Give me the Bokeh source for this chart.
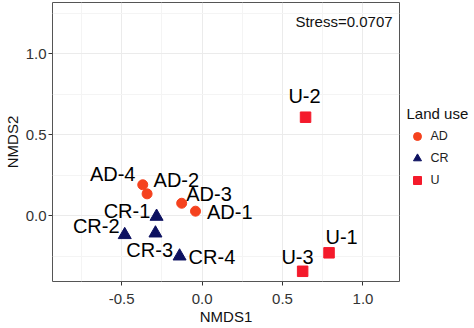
from bokeh.plotting import figure
from bokeh.models import (ColumnDataSource, Range1d, FixedTicker, PrintfTickFormatter,
                          Legend, LegendItem, Label)
from bokeh.layouts import row
from bokeh.core.properties import value
from bokeh.embed import file_html
from bokeh.resources import INLINE

# ---- data ----
groups = ["AD", "CR", "U"]
ad_names = ["AD-1", "AD-2", "AD-3", "AD-4"]
ad_x = [-0.041, -0.342, -0.127, -0.369]
ad_y = [0.027, 0.134, 0.076, 0.190]
ad_lx = [0.172, -0.160, 0.043, -0.556]
ad_ly = [0.025, 0.222, 0.130, 0.256]

cr_names = ["CR-1", "CR-2", "CR-3", "CR-4"]
cr_x = [-0.283, -0.481, -0.290, -0.140]
cr_y = [-0.006, -0.119, -0.109, -0.251]
cr_lx = [-0.467, -0.658, -0.326, 0.061]
cr_ly = [0.028, -0.065, -0.213, -0.253]

u_names = ["U-1", "U-2", "U-3"]
u_x = [0.789, 0.643, 0.625]
u_y = [-0.230, 0.607, -0.344]
u_lx = [0.867, 0.6365, 0.593]
u_ly = [-0.130, 0.741, -0.257]

stress_text = "Stress=0.0707"
x_ticks = [-0.5, 0.0, 0.5, 1.0]
y_ticks = [0.0, 0.5, 1.0]

FONT = "Liberation Sans"
c_ad = "#F5421E"
c_cr = "#0D1160"
c_u = "#F41A2B"

p = figure(width=400, height=328, output_backend="svg", toolbar_location=None,
           x_range=Range1d(-0.93, 1.227), y_range=Range1d(-0.407, 1.315),
           min_border_left=48, min_border_right=1, min_border_top=2, min_border_bottom=47)
p.background_fill_color = "white"
p.border_fill_color = "white"
p.outline_line_color = "#555555"
p.outline_line_width = 1

for ax in (p.xaxis[0], p.yaxis[0]):
    ax.axis_line_color = None
    ax.major_tick_line_color = "#333333"
    ax.major_tick_out = 4
    ax.major_tick_in = 0
    ax.minor_tick_line_color = None
    ax.major_label_text_font = FONT
    ax.major_label_text_font_size = "15px"
    ax.major_label_text_color = "#333333"
    ax.axis_label_text_font = FONT
    ax.axis_label_text_font_size = "15px"
    ax.axis_label_text_font_style = "normal"
    ax.axis_label_text_color = "#111111"
    ax.formatter = PrintfTickFormatter(format="%.1f")

p.xaxis[0].ticker = FixedTicker(ticks=x_ticks, minor_ticks=[-0.75, -0.25, 0.25, 0.75])
p.yaxis[0].ticker = FixedTicker(ticks=y_ticks, minor_ticks=[-0.25, 0.25, 0.75, 1.25])
p.xaxis[0].axis_label = "NMDS1"
p.yaxis[0].axis_label = "NMDS2"
p.xaxis[0].major_label_standoff = 8
p.yaxis[0].major_label_standoff = 2
p.xaxis[0].axis_label_standoff = 1
p.yaxis[0].axis_label_standoff = 2

for g in (p.xgrid[0], p.ygrid[0]):
    g.grid_line_color = "#EBEBEB"
    g.grid_line_width = 1
    g.minor_grid_line_color = "#F4F4F4"
    g.minor_grid_line_width = 1
p.xgrid[0].ticker = p.xaxis[0].ticker
p.ygrid[0].ticker = p.yaxis[0].ticker

ad_src = ColumnDataSource(dict(x=ad_x, y=ad_y, lx=ad_lx, ly=ad_ly, name=ad_names))
cr_src = ColumnDataSource(dict(x=cr_x, y=cr_y, lx=cr_lx, ly=cr_ly, name=cr_names))
u_src = ColumnDataSource(dict(x=u_x, y=u_y, lx=u_lx, ly=u_ly, name=u_names))

p.scatter("x", "y", source=ad_src, marker="circle", size=10, color=c_ad)
p.scatter("x", "y", source=cr_src, marker="triangle", size=13, color=c_cr)
p.scatter("x", "y", source=u_src, marker="square", size=10.5, color=c_u)

for src in (ad_src, cr_src, u_src):
    p.text("lx", "ly", text="name", source=src, text_font=value(FONT),
           text_font_size="20px", text_align="center", text_baseline="middle",
           text_color="#000000")

p.add_layout(Label(x=1.184, y=1.2, text=stress_text, text_font=FONT,
                   text_font_size="15px", text_align="right", text_baseline="middle",
                   text_color="#111111"))

# ---- legend panel (separate figure); its key glyphs use off-range placeholder points ----
q = figure(width=74, height=328, output_backend="svg", toolbar_location=None,
           x_range=Range1d(0, 1), y_range=Range1d(0, 1),
           min_border_left=0, min_border_right=0, min_border_top=0, min_border_bottom=0)
q.axis.visible = False
q.grid.visible = False
q.outline_line_color = None
q.background_fill_color = "white"
q.border_fill_color = "white"
off = dict(x=[5.0], y=[5.0])
l_ad = q.scatter(x="x", y="y", source=ColumnDataSource(off), marker="circle", size=10, color=c_ad)
l_cr = q.scatter(x="x", y="y", source=ColumnDataSource(off), marker="triangle", size=13, color=c_cr)
l_u = q.scatter(x="x", y="y", source=ColumnDataSource(off), marker="square", size=10.5, color=c_u)

legend = Legend(items=[LegendItem(label=g, renderers=[r]) for g, r in zip(groups, [l_ad, l_cr, l_u])],
                location=(6.5, 91), title="Land use",
                title_text_font=FONT, title_text_font_size="15px", title_text_font_style="normal",
                title_text_color="#111111", title_standoff=4,
                label_text_font=FONT, label_text_font_size="12.5px", label_text_color="#222222",
                glyph_width=20, glyph_height=20, label_height=20, label_standoff=4, spacing=2,
                padding=0, margin=0, border_line_color=None, background_fill_alpha=0)
q.add_layout(legend, "center")

open("out.html", "w").write(file_html(row(p, q), INLINE))
